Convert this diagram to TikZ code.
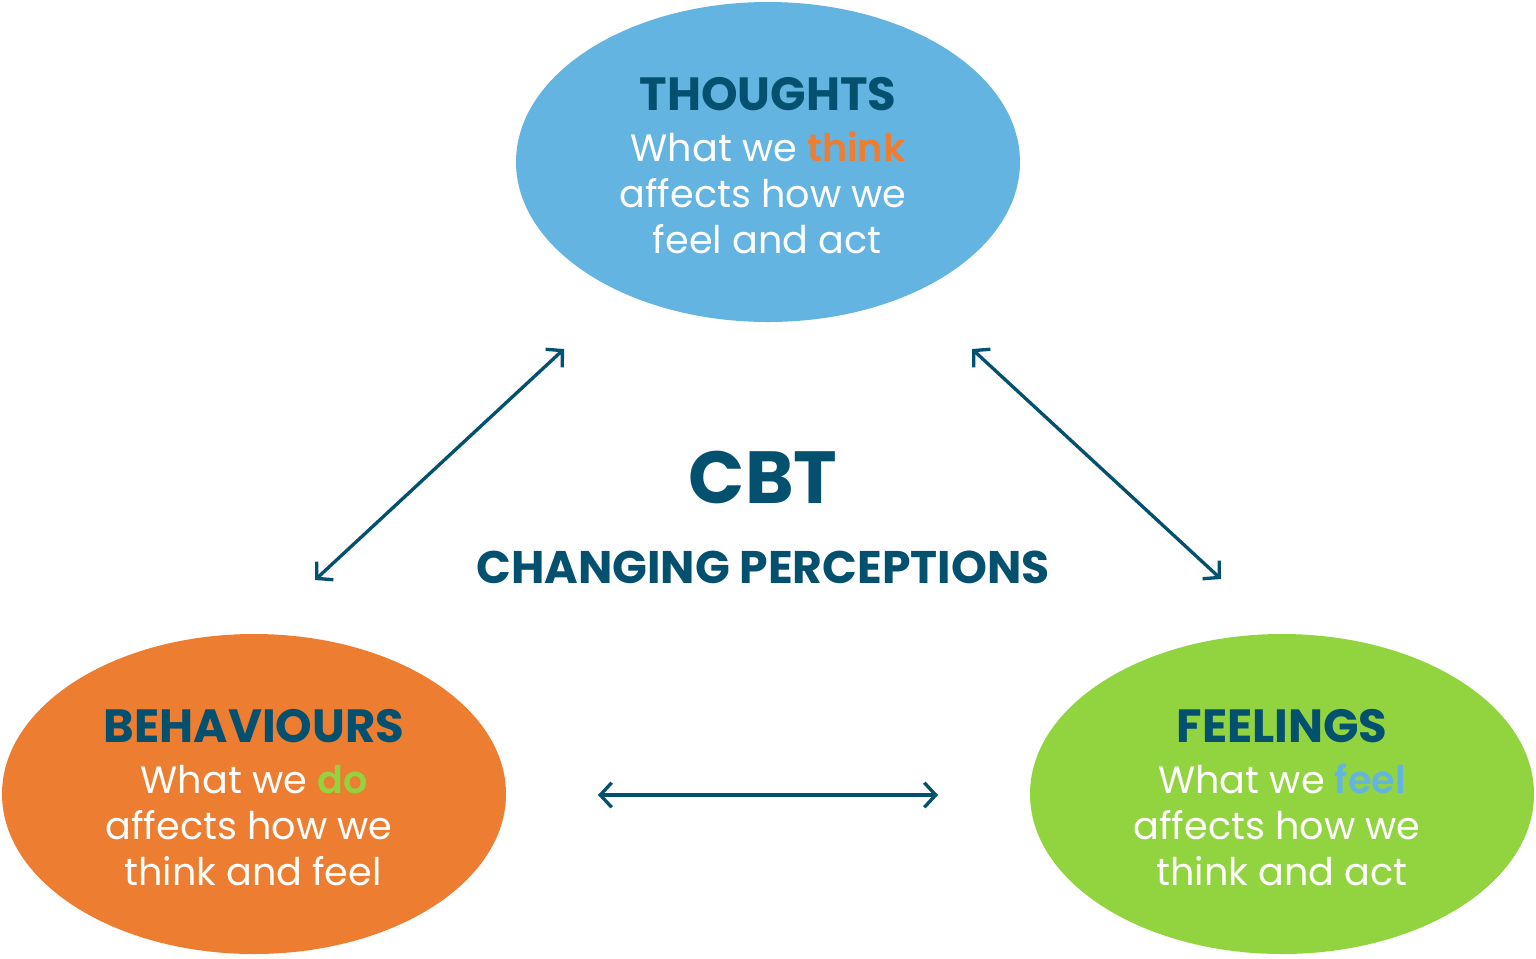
\documentclass[tikz,border=0pt]{standalone}
\usepackage{fontspec}
\setmainfont{Poppins}
\newfontfamily\semib{Poppins SemiBold}
\usetikzlibrary{shapes.geometric,arrows.meta}
\definecolor{navy}{HTML}{03506F}
\definecolor{cblue}{HTML}{63B4E1}
\definecolor{corange}{HTML}{ED7D31}
\definecolor{cgreen}{HTML}{92D43F}
\tikzset{
  bubble/.style={ellipse, draw=none, minimum width=504*0.02cm, minimum height=320*0.02cm, inner sep=0pt},
  title/.style={anchor=base, text=navy, font=\fontsize{26.5}{30}\selectfont\bfseries, inner sep=0pt},
  body/.style={anchor=base, text=white, font=\fontsize{21.7}{26}\selectfont, inner sep=0pt},
  arr/.style={draw=navy, line width=1.9pt, {Straight Barb[length=6.5pt,width=14pt,line width=1.9pt]}-{Straight Barb[length=6.5pt,width=14pt,line width=1.9pt]}},
}
\begin{document}
\begin{tikzpicture}[x=0.02cm,y=-0.02cm]
\useasboundingbox (0,0) rectangle (1536,958);
% ellipses
\node[bubble, fill=cblue] (th) at (768,162) {};
\node[bubble, fill=corange] (be) at (254,794) {};
\node[bubble, fill=cgreen] (fe) at (1282,794) {};
% thoughts text
\node[title] (thT) at (768,110) {THOUGHTS};
\node[body] (th1) at (768,161) {What we \textcolor{corange}{\semib think}};
\node[body] (th2) at (763,207) {affects how we};
\node[body] (th3) at (767,253) {feel and act};
% behaviours text
\node[title] (beT) at (254,742) {BEHAVIOURS};
\node[body] (be1) at (254,793) {What we \textcolor{cgreen}{\semib do}};
\node[body] (be2) at (249,839) {affects how we};
\node[body] (be3) at (253,885) {think and feel};
% feelings text
\node[title] (feT) at (1282,742) {FEELINGS};
\node[body] (fe1) at (1282,793) {What we \textcolor{cblue}{\semib feel}};
\node[body] (fe2) at (1277,839) {affects how we};
\node[body] (fe3) at (1282,885) {think and act};
% centre
\node[anchor=base, text=navy, font=\fontsize{42}{48}\selectfont\bfseries, inner sep=0pt] (cbt) at (763,503) {CBT};
\node[anchor=base, text=navy, font=\fontsize{26}{30}\selectfont\bfseries, inner sep=0pt] (cp) at (763,583) {CHANGING PERCEPTIONS};
% arrows
\coordinate (l1) at (315,580);
\coordinate (l2) at (564,349);
\coordinate (r1) at (972,349);
\coordinate (r2) at (1221,579);
\coordinate (h1) at (598,795);
\coordinate (h2) at (938,795);
\draw[arr] (l1) -- (l2);
\draw[arr] (r1) -- (r2);
\draw[arr] (h1) -- (h2);
\end{tikzpicture}
\end{document}
